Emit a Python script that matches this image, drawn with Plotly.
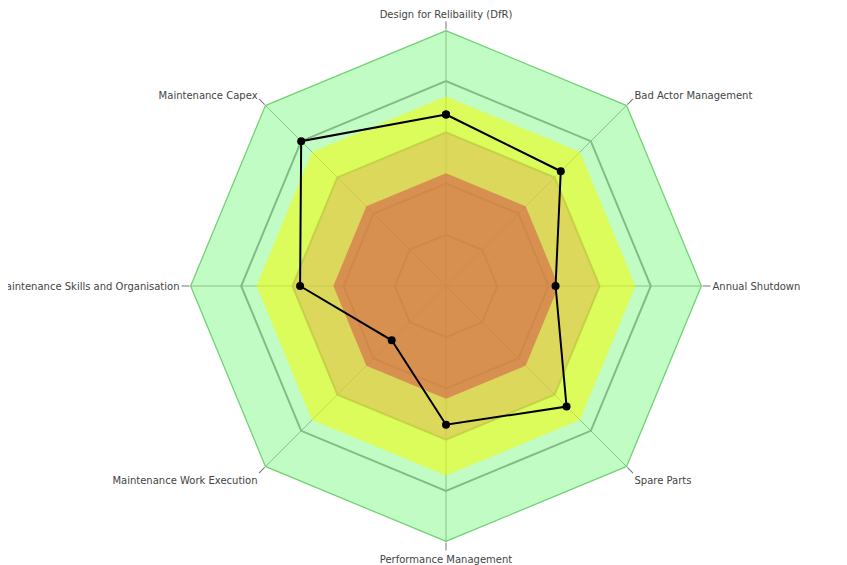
import plotly.graph_objects as go

categories = [
    "Design for Relibaility (DfR)",
    "Bad Actor Management",
    "Annual Shutdown",
    "Spare Parts",
    "Performance Management",
    "Maintenance Work Execution",
    "Maintenance Skills and Organisation",
    "Maintenance Capex",
]
scores = [3.35, 3.17, 2.14, 3.33, 2.71, 1.5, 2.85, 4.0]

# background bands (outer -> inner)
band_levels = [5.0, 3.7, 3.0, 2.2]
band_fills = [
    "rgba(3,243,19,0.25)",
    "rgba(245,252,0,0.53)",
    "rgba(220,180,92,0.5)",
    "rgba(212,72,68,0.5)",
]

cats_closed = categories + [categories[0]]

fig = go.Figure()
for i, (lvl, col) in enumerate(zip(band_levels, band_fills)):
    fig.add_trace(go.Scatterpolar(
        r=[lvl] * len(cats_closed),
        theta=cats_closed,
        fill="toself",
        fillcolor=col,
        mode="lines",
        line=dict(color="rgb(116,208,116)" if i == 0 else "rgba(0,0,0,0)",
                  width=2.5 if i == 0 else 0),
        hoverinfo="skip",
        showlegend=False,
    ))

fig.add_trace(go.Scatterpolar(
    r=scores + [scores[0]],
    theta=cats_closed,
    mode="lines+markers",
    line=dict(color="black", width=2),
    marker=dict(color="black", size=8),
    showlegend=False,
))

fig.update_layout(
    width=847,
    height=565,
    paper_bgcolor="white",
    font=dict(family="DejaVu Sans", size=10, color="#444"),
    margin=dict(l=29, r=0, t=22, b=31),
    showlegend=False,
    polar=dict(
        bgcolor="white",
        gridshape="linear",
        radialaxis=dict(
            range=[0, 5],
            dtick=1,
            showticklabels=False,
            ticks="",
            showline=False,
            gridcolor="#aaaaaa",
            gridwidth=2,
        ),
        angularaxis=dict(
            direction="clockwise",
            rotation=90,
            ticks="outside",
            ticklen=8,
            tickcolor="#777",
            showline=False,
            gridcolor="#b4b4b4",
        ),
    ),
)

fig.write_html("out.html")
